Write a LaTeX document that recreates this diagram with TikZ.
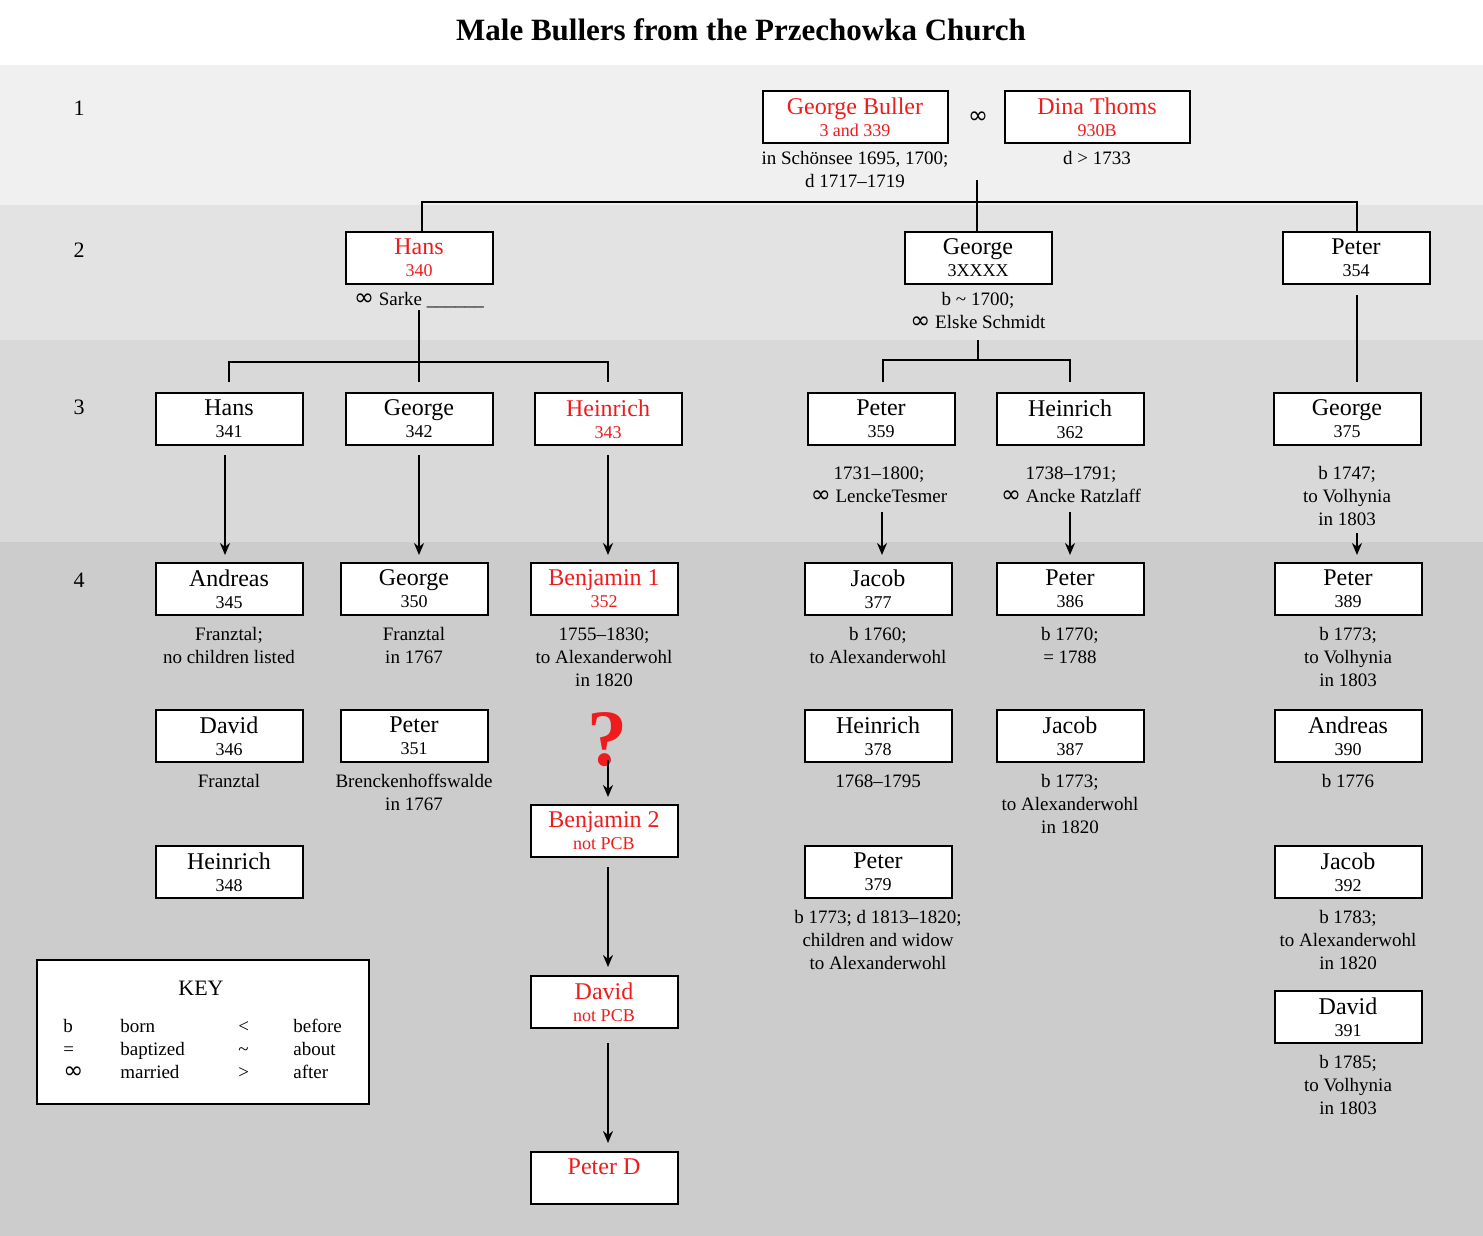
\documentclass[tikz,border=0pt]{standalone}
\usepackage{fontspec}
\setmainfont{Liberation Serif}
\newfontfamily\dv{DejaVu Sans}
\usetikzlibrary{arrows.meta}
\definecolor{myred}{HTML}{EE1C1C}
\tikzset{x=0.5pt,y=-0.5pt,
 pbox/.style={draw,line width=1pt,fill=white,minimum width=73.5pt,minimum height=26pt,inner sep=0pt,align=center},
 ann/.style={anchor=north,align=center,font=\fontsize{9.5}{11.5}\selectfont,inner sep=0pt},
 ln/.style={line width=0.9pt},
 arr/.style={line width=0.9pt,-{Stealth[length=6pt,width=5pt]}}}
\newcommand{\pb}[5]{\node[pbox,text=#5] (#1) at (#2) {\fontsize{12}{12}\selectfont #3\\[-1pt]\fontsize{9}{9}\selectfont #4};}
\newcommand{\mar}{{\dv\fontsize{12}{11.5}\selectfont ∞}}
\begin{document}
\begin{tikzpicture}
\useasboundingbox (0,0) rectangle (1483,1236);
\fill[white] (0,0) rectangle (1483,65);
\fill[black!6] (0,65) rectangle (1483,205);
\fill[black!11] (0,205) rectangle (1483,340);
\fill[black!15] (0,340) rectangle (1483,542);
\fill[black!20] (0,542) rectangle (1483,1236);
\node (title) at (741,30) {\fontsize{15.5}{16}\selectfont\bfseries Male Bullers from the Przechowka Church};
\foreach \n/\y in {1/108,2/250,3/407,4/580} \node (r\n) at (79,\y) {\fontsize{11}{11}\selectfont \n};
% row 1
\node[pbox,minimum width=92.5pt,text=myred] (gb) at (855,117) {\fontsize{12}{12}\selectfont George Buller\\[-1pt]\fontsize{9}{9}\selectfont 3 and 339};
\node[pbox,minimum width=92.5pt,text=myred] (dt) at (1097,117) {\fontsize{12}{12}\selectfont Dina Thoms\\[-1pt]\fontsize{9}{9}\selectfont 930B};
\node (mar1) at (978,118) {\mar};
\node[ann] (gba) at (855,151) {in Schönsee 1695, 1700;\\d 1717–1719};
\node[ann] (dta) at (1097,151) {d > 1733};
% row 2
\pb{h340}{419,258}{Hans}{340}{myred}
\pb{g3x}{978,258}{George}{3XXXX}{black}
\pb{p354}{1356,258}{Peter}{354}{black}
\node[ann] (h340a) at (419,292) {\mar\ Sarke \_\_\_\_\_\_};
\node[ann] (g3xa) at (978,292) {b \textasciitilde\ 1700;\\\mar\ Elske Schmidt};
% row 3
\pb{h341}{229,419}{Hans}{341}{black}
\pb{g342}{419,419}{George}{342}{black}
\pb{h343}{608,419}{Heinrich}{343}{myred}
\pb{p359}{881,419}{Peter}{359}{black}
\pb{h362}{1070,419}{Heinrich}{362}{black}
\pb{g375}{1347,419}{George}{375}{black}
\node[ann] (p359a) at (879,466) {1731–1800;\\\mar\ LenckeTesmer};
\node[ann] (h362a) at (1071,466) {1738–1791;\\\mar\ Ancke Ratzlaff};
\node[ann] (g375a) at (1347,466) {b 1747;\\to Volhynia\\in 1803};
% row 4
\pb{a345}{229,589}{Andreas}{345}{black}
\pb{g350}{414,589}{George}{350}{black}
\pb{b1}{604,589}{Benjamin 1}{352}{myred}
\pb{j377}{878,589}{Jacob}{377}{black}
\pb{p386}{1070,589}{Peter}{386}{black}
\pb{p389}{1348,589}{Peter}{389}{black}
\node[ann] (a345a) at (229,627) {Franztal;\\no children listed};
\node[ann] (g350a) at (414,627) {Franztal\\in 1767};
\node[ann] (b1a) at (604,627) {1755–1830;\\to Alexanderwohl\\in 1820};
\node[ann] (j377a) at (878,627) {b 1760;\\to Alexanderwohl};
\node[ann] (p386a) at (1070,627) {b 1770;\\= 1788};
\node[ann] (p389a) at (1348,627) {b 1773;\\to Volhynia\\in 1803};
% row 5
\pb{d346}{229,736}{David}{346}{black}
\pb{p351}{414,736}{Peter}{351}{black}
\pb{h378}{878,736}{Heinrich}{378}{black}
\pb{j387}{1070,736}{Jacob}{387}{black}
\pb{a390}{1348,736}{Andreas}{390}{black}
\node[ann] (d346a) at (229,774) {Franztal};
\node[ann] (p351a) at (414,774) {Brenckenhoffswalde\\in 1767};
\node[ann] (h378a) at (878,774) {1768–1795};
\node[ann] (j387a) at (1070,774) {b 1773;\\to Alexanderwohl\\in 1820};
\node[ann] (a390a) at (1348,774) {b 1776};
% further
\pb{b2}{604,831}{Benjamin 2}{not PCB}{myred}
\pb{h348}{229,872}{Heinrich}{348}{black}
\pb{p379}{878,872}{Peter}{379}{black}
\pb{j392}{1348,872}{Jacob}{392}{black}
\node[ann] (p379a) at (878,910) {b 1773; d 1813–1820;\\children and widow\\to Alexanderwohl};
\node[ann] (j392a) at (1348,910) {b 1783;\\to Alexanderwohl\\in 1820};
\pb{dnp}{604,1002}{David}{not PCB}{myred}
\pb{d391}{1348,1017}{David}{391}{black}
\node[ann] (d391a) at (1348,1055) {b 1785;\\to Volhynia\\in 1803};
\node[pbox,text=myred,anchor=north] (pd) at (604,1151) {\fontsize{12}{12}\selectfont Peter D\\[-1pt]\fontsize{9}{9}\selectfont\phantom{0}};
% question mark
\node[text=myred,inner sep=0pt] (q) at (607,740) {\fontsize{40}{40}\selectfont\bfseries ?};
% connectors
\coordinate (c1) at (977,180);
\coordinate (j1) at (977,202);
\draw[ln] (c1) -- (j1);
\draw[ln] (422,232) |- (j1) -| (1357,232);
\draw[ln] (j1) -- (977,232);
\draw[ln] (419,310) -- (419,362) coordinate (j2);
\draw[ln] (229,382) |- (j2) -| (608,382);
\draw[ln] (j2) -- (419,382);
\coordinate (j3a) at (978,340);
\draw[ln] (j3a) -- (978,360) coordinate (j3);
\draw[ln] (883,382) |- (j3) -| (1070,382);
\coordinate (k1) at (1357,295);
\draw[ln] (k1) -- (1357,382) coordinate (k2);
\draw[arr] (225,455) -- (225,555);
\draw[arr] (419,455) -- (419,555);
\draw[arr] (608,455) -- (608,555);
\draw[arr] (882,512) -- (882,555);
\draw[arr] (1070,512) -- (1070,555);
\draw[arr] (1357,533) -- (1357,555);
\draw[arr] (608,760) -- (608,797);
\draw[arr] (608,867) -- (608,967);
\draw[arr] (608,1043) -- (608,1143);
% key
\node[draw,line width=1pt,fill=white,minimum width=166pt,minimum height=72pt,anchor=north west] (key) at (36,959) {};
\node (keyt) at (201,988) {\fontsize{11}{11}\selectfont KEY};
\node[anchor=north west,inner sep=0pt,font=\fontsize{9.5}{11.5}\selectfont] (keyb) at (63,1016) {%
\begin{tabular}{@{}p{28.5pt}@{}p{59pt}@{}p{27.5pt}@{}l@{}}
b & born & < & before\\
= & baptized & \textasciitilde & about\\
\mar & married & > & after
\end{tabular}};
\end{tikzpicture}
\end{document}
